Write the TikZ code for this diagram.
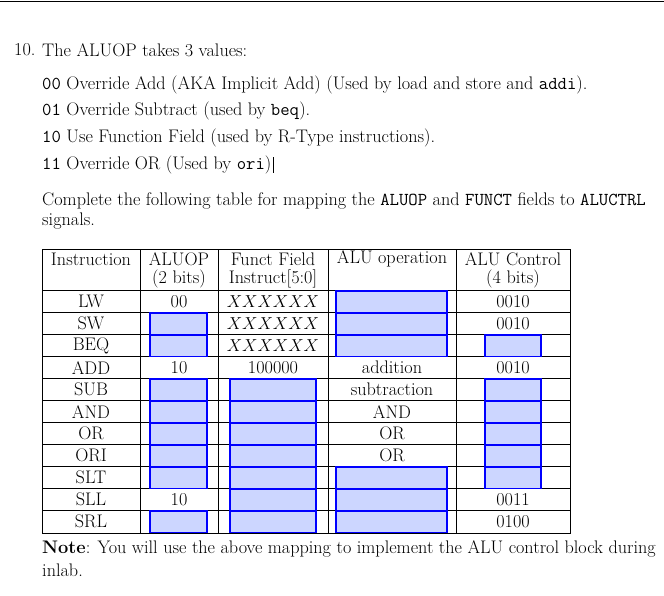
\documentclass[tikz,border=0pt]{standalone}
\usepackage{fontspec}
\definecolor{boxfill}{RGB}{204,214,255}
\begin{document}
\begin{tikzpicture}[x=1pt,y=-1pt,
  txt/.style={anchor=west,inner sep=0pt,font=\fontsize{18.2}{21}\selectfont},
  cell/.style={inner sep=0pt,font=\fontsize{18.2}{21}\selectfont},
  blank/.style={draw=blue,line width=1.4pt,fill=boxfill}]
\useasboundingbox (0,0) rectangle (664,595);
\draw[line width=1pt] (0,1) -- (664,1);
\node[txt] (n10) at (14,50) {10.};
\node[txt] (n10t) at (42,50) {The ALUOP takes 3 values:};
\node[txt] (l1) at (42,85) {\texttt{00} Override Add (AKA Implicit Add) (Used by load and store and \texttt{addi}).};
\node[txt] (l2) at (42,111) {\texttt{01} Override Subtract (used by \texttt{beq}).};
\node[txt] (l3) at (42,138) {\texttt{10} Use Function Field (used by R-Type instructions).};
\node[txt] (l4) at (42,165) {\texttt{11} Override OR (Used by \texttt{ori})};
\draw[line width=0.8pt] (l4.east)++(2,-8) coordinate (c1) -- ++(0,16) coordinate (c2);
\node[txt] (p1) at (42,201) {Complete the following table for mapping the \texttt{ALUOP} and \texttt{FUNCT} fields to \texttt{ALUCTRL}};
\node[txt] (p2) at (42,221) {signals.};
\node[txt] (nt) at (42,549) {\textbf{Note}: You will use the above mapping to implement the ALU control block during};
\node[txt] (nt2) at (42,570) {inlab.};
% table grid
\draw[line width=0.8pt] (42,249) rectangle (570,533);
\foreach \x in {140,218,328,456} \draw[line width=0.8pt] (\x,249) -- (\x,533);
\foreach \i in {0,...,10} \draw[line width=0.8pt] (42,290.7+\i*22) -- (570,290.7+\i*22);
% header
\node[cell] (h1) at (91,259) {Instruction};
\node[cell] (h2a) at (179,259) {ALUOP};
\node[cell] (h2b) at (179,279) {(2 bits)};
\node[cell] (h3a) at (273,259) {Funct Field};
\node[cell] (h3b) at (273,279) {Instruct[5:0]};
\node[cell] (h4) at (392,259) {ALU operation};
\node[cell] (h5a) at (513,259) {ALU Control};
\node[cell] (h5b) at (513,279) {(4 bits)};
% rows
\def\t{B}
\foreach \r/\a/\b/\c/\d [count=\i from 0] in {
 LW/00/X/B/0010,
 SW/B/X/B/0010,
 BEQ/B/X/B/B,
 ADD/10/100000/addition/0010,
 SUB/B/B/subtraction/B,
 AND/B/B/AND/B,
 OR/B/B/OR/B,
 ORI/B/B/OR/B,
 SLT/B/B/B/B,
 SLL/10/B/B/0011,
 SRL/B/B/B/0100}{
  \pgfmathsetmacro{\yc}{301.7+\i*22}
  \node[cell] (r\i c1) at (91,\yc) {\r};
  \edef\v{\a}\ifx\v\t \draw[blank] (150,\yc-10.6) rectangle (207,\yc+10.6); \else \node[cell] (r\i c2) at (179,\yc) {\a}; \fi
  \edef\v{\b}\def\xx{X}\ifx\v\t \draw[blank] (230,\yc-10.6) rectangle (316,\yc+10.6); \else \ifx\v\xx \node[cell] (r\i c3) at (273,\yc) {$XXXXXX$}; \else \node[cell] (r\i c3) at (273,\yc) {\b}; \fi\fi
  \edef\v{\c}\ifx\v\t \draw[blank] (336,\yc-10.6) rectangle (447,\yc+10.6); \else \node[cell] (r\i c4) at (392,\yc) {\c}; \fi
  \edef\v{\d}\ifx\v\t \draw[blank] (485,\yc-10.6) rectangle (541,\yc+10.6); \else \node[cell] (r\i c5) at (513,\yc) {\d}; \fi
}
\end{tikzpicture}
\end{document}
